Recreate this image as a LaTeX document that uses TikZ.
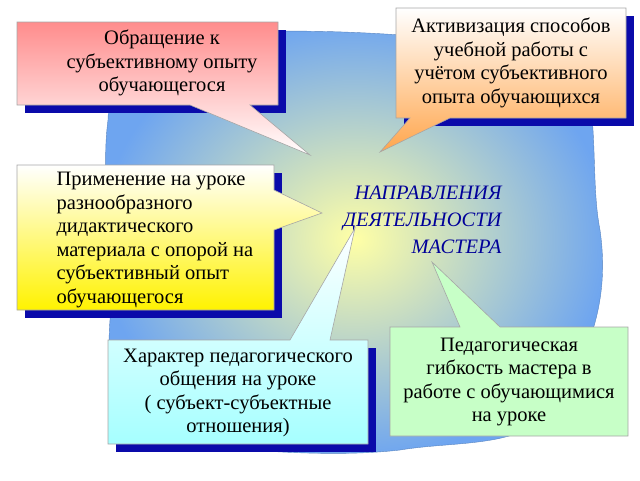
\documentclass[tikz,border=0pt]{standalone}
\usepackage{fontspec}
\setmainfont{Liberation Serif}
\usetikzlibrary{shadings}
\definecolor{sh}{RGB}{10,10,170}
\definecolor{blob}{RGB}{110,165,240}
\tikzset{callout/.style={draw=gray!70,line width=0.6pt},
 txt/.style={font=\fontsize{20.5}{23.5}\selectfont,align=center}}
\begin{document}
\begin{tikzpicture}[x=1pt,y=-1pt]
\useasboundingbox (0,0) rectangle (640,480);
% blob
\shade[inner color=yellow!35!white,outer color=blob,draw=blob!80!black,line width=0.4pt]
 (120,45) .. controls (200,30) and (300,28) .. (400,35)
 .. controls (470,30) and (560,20) .. (580,60)
 .. controls (600,110) and (590,180) .. (600,230)
 .. controls (610,300) and (590,350) .. (560,400)
 .. controls (530,450) and (460,440) .. (400,450)
 .. controls (330,458) and (250,450) .. (180,445)
 .. controls (120,440) and (105,380) .. (110,320)
 .. controls (115,250) and (100,180) .. (108,120)
 .. controls (110,80) and (105,55) .. (120,45) -- cycle;
\node[font=\fontsize{20.5}{27}\selectfont\itshape,text=blue!60!black,align=right,anchor=east] (c) at (505,220) {НАПРАВЛЕНИЯ\\ДЕЯТЕЛЬНОСТИ\\МАСТЕРА};
% 1
\fill[sh] (25,30) rectangle (286,113);
\shade[callout,top color=red!45!white,bottom color=white] (17,22) -- (278,22) -- (278,105) -- (250,105) -- (310,155) -- (190,105) -- (17,105) -- cycle;
\node[txt] (a) at (162,63) {Обращение к\\субъективному опыту\\обучающегося};
% 2
\fill[sh] (404,16) rectangle (634,126);
\shade[callout,top color=white,bottom color=orange!70!white] (396,8) -- (626,8) -- (626,118) -- (450,118) -- (380,152) -- (410,118) -- (396,118) -- cycle;
\node[txt] (b) at (511,63) {Активизация способов\\учебной работы с\\учётом субъективного\\опыта обучающихся};
% 3
\fill[sh] (25,173) rectangle (282,318);
\shade[callout,top color=white,bottom color=yellow!90!orange] (17,165) -- (274,165) -- (274,190) -- (322,213) -- (274,230) -- (274,310) -- (17,310) -- cycle;
\node[txt,align=left,anchor=west] (d) at (53,240) {Применение на уроке\\разнообразного\\дидактического\\материала с опорой на\\субъективный опыт\\обучающегося};
% 4
\fill[sh] (116,348) rectangle (376,452);
\shade[callout,top color=white,bottom color=cyan!35!white] (108,340) -- (290,340) -- (355,228) -- (330,340) -- (368,340) -- (368,444) -- (108,444) -- cycle;
\node[txt] (e) at (238,393) {Характер педагогического\\общения на уроке\\( субъект-субъектные\\отношения)};
% 5
\fill[green!22!white,draw=gray!70,line width=0.6pt] (390,327) -- (460,327) -- (432,262) -- (500,327) -- (628,327) -- (628,436) -- (390,436) -- cycle;
\node[txt] (f) at (509,382) {Педагогическая\\гибкость мастера в\\работе с обучающимися\\на уроке};
\end{tikzpicture}
\end{document}
